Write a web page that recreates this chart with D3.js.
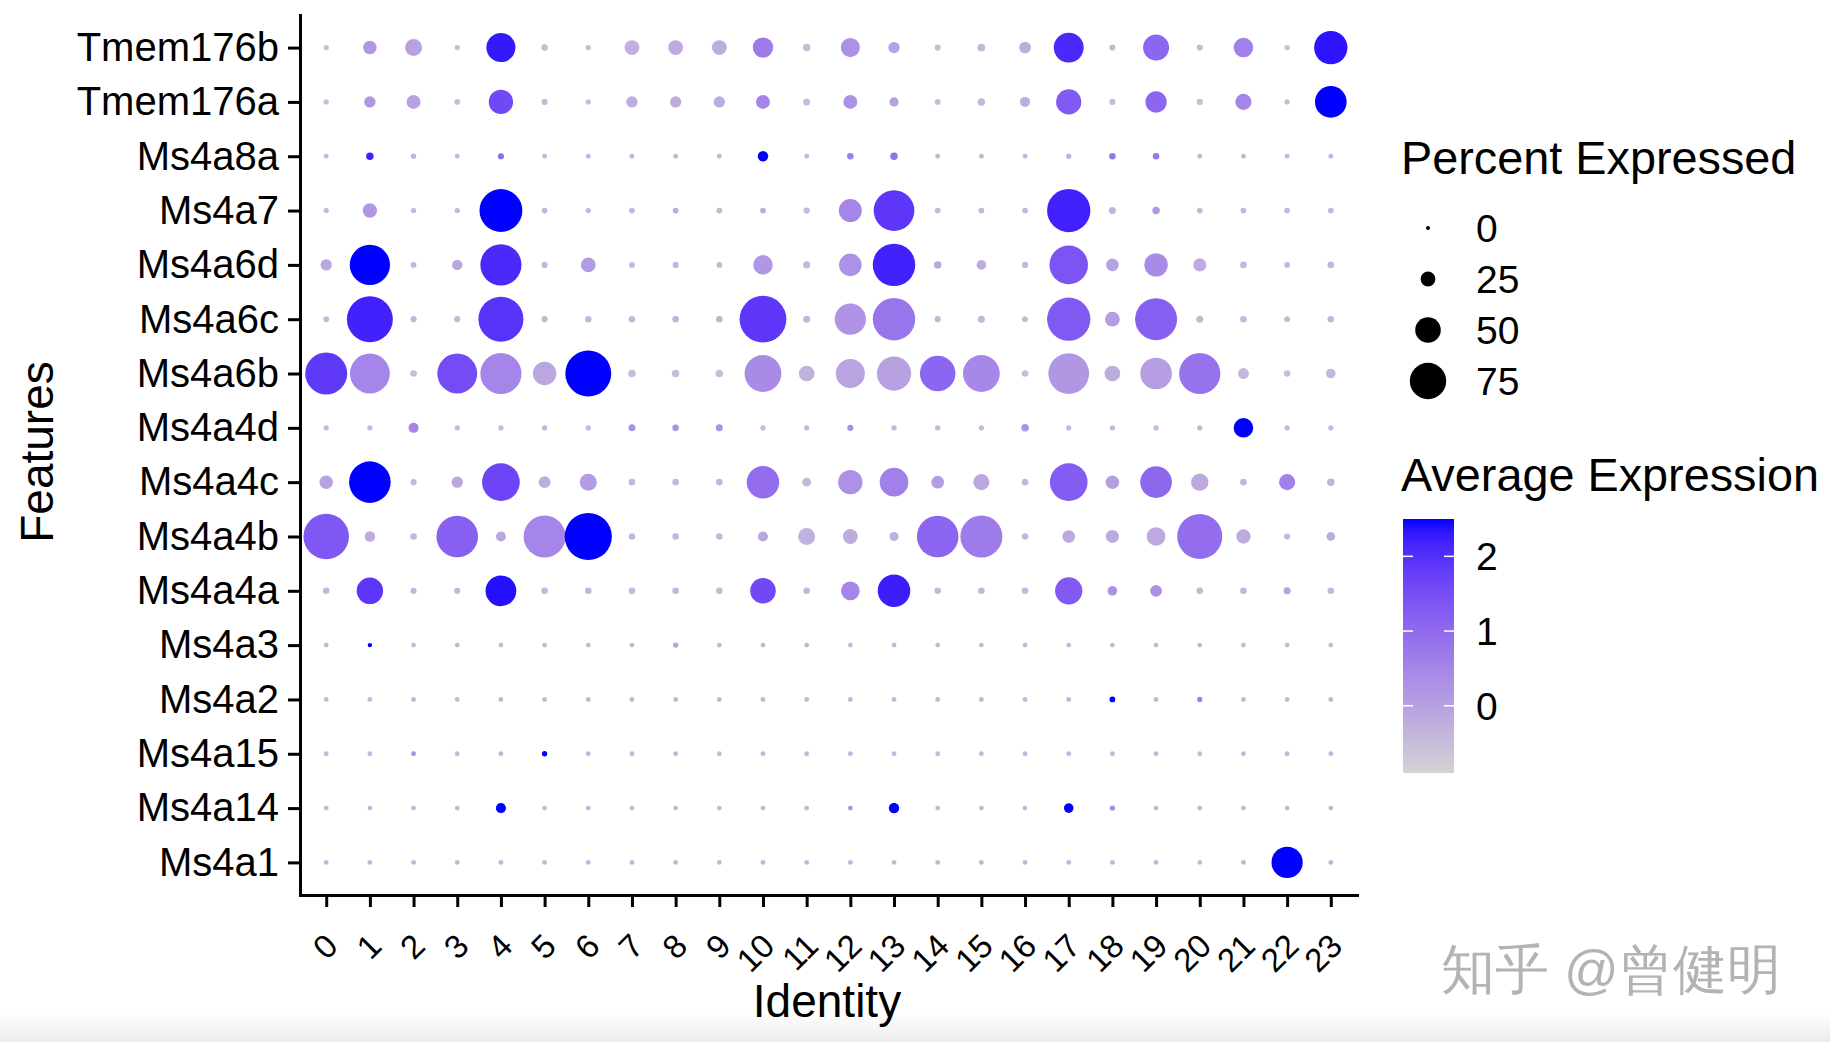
<!DOCTYPE html>
<html>
<head>
<meta charset="utf-8">
<script src="https://cdn.jsdelivr.net/npm/d3@7"></script>
<style>
  body { margin: 0; background: #fff; }
  text { font-family: "Liberation Sans", Arial, Helvetica, sans-serif; }
</style>
</head>
<body>
<div id="chart"></div>
<script>
// genes on the y axis, top to bottom
var features = ["Tmem176b", "Tmem176a", "Ms4a8a", "Ms4a7", "Ms4a6d", "Ms4a6c", "Ms4a6b", "Ms4a4d",
  "Ms4a4c", "Ms4a4b", "Ms4a4a", "Ms4a3", "Ms4a2", "Ms4a15", "Ms4a14", "Ms4a1"];

// cluster identities on the x axis
var clusters = ["0", "1", "2", "3", "4", "5", "6", "7", "8", "9", "10", "11",
  "12", "13", "14", "15", "16", "17", "18", "19", "20", "21", "22", "23"];

// percent of cells expressing, one row per feature
var pctExpressed = [
  [3, 22, 30, 3, 58, 6, 3, 25, 25, 25, 38, 8, 35, 17, 5, 9, 18, 60, 5, 51, 5, 36, 3, 68],
  [3, 17, 23, 4, 47, 5, 3, 17, 17, 17, 23, 7, 23, 12, 4, 8, 14, 49, 5, 40, 5, 28, 3, 64],
  [2, 8, 3, 2, 5, 2, 2, 2, 2, 2, 15, 2, 6, 8, 2, 2, 2, 3, 6, 6, 2, 2, 2, 2],
  [3, 24, 3, 3, 90, 4, 3, 4, 4, 4, 4, 5, 44, 85, 4, 4, 4, 91, 7, 8, 4, 4, 4, 4],
  [17, 84, 4, 15, 86, 5, 25, 4, 5, 4, 36, 7, 43, 89, 8, 13, 5, 80, 20, 45, 21, 6, 4, 6],
  [4, 97, 5, 5, 95, 5, 6, 6, 6, 6, 99, 7, 63, 89, 5, 7, 4, 91, 25, 88, 7, 6, 4, 6],
  [88, 83, 6, 83, 86, 45, 97, 8, 8, 8, 76, 27, 58, 70, 73, 76, 6, 85, 27, 64, 86, 16, 6, 13],
  [3, 3, 14, 3, 3, 3, 3, 7, 6, 7, 3, 3, 5, 3, 3, 3, 8, 3, 3, 3, 3, 36, 3, 3],
  [22, 87, 5, 17, 78, 18, 30, 6, 6, 6, 66, 11, 47, 57, 20, 28, 6, 78, 22, 64, 31, 6, 28, 8],
  [96, 15, 6, 87, 14, 88, 100, 6, 6, 6, 14, 30, 25, 12, 87, 88, 6, 20, 21, 34, 95, 24, 5, 11],
  [6, 52, 5, 5, 62, 6, 6, 6, 6, 6, 50, 6, 34, 66, 6, 6, 6, 54, 13, 18, 6, 6, 7, 6],
  [2, 1, 2, 2, 2, 2, 2, 2, 3, 2, 2, 2, 2, 2, 2, 2, 2, 2, 2, 2, 2, 2, 2, 2],
  [2, 2, 2, 2, 2, 2, 2, 2, 2, 2, 2, 2, 2, 2, 2, 2, 2, 2, 4, 2, 3, 2, 2, 2],
  [2, 2, 2, 2, 2, 3, 2, 2, 2, 2, 2, 2, 2, 2, 2, 2, 2, 2, 2, 2, 2, 2, 2, 2],
  [2, 2, 2, 2, 14, 2, 2, 2, 2, 2, 2, 2, 2, 15, 2, 2, 2, 13, 3, 2, 2, 2, 2, 2],
  [2, 2, 2, 2, 2, 2, 2, 2, 2, 2, 2, 2, 2, 2, 2, 2, 2, 2, 2, 2, 2, 2, 63, 2]
];

// scaled average expression, one row per feature
var avgExpression = [
  [-0.5, 0.2, 0, -0.5, 2.3, -0.5, -0.5, -0.3, -0.2, -0.2, 0.7, -0.5, 0.3, 0, -0.5, -0.4, -0.2, 2.1, -0.5, 1.1, -0.5, 0.6, -0.5, 2.35],
  [-0.5, 0.2, 0, -0.5, 1.6, -0.5, -0.5, -0.2, -0.2, -0.2, 0.5, -0.5, 0.3, 0, -0.5, -0.4, -0.2, 1.3, -0.5, 1.1, -0.5, 0.5, -0.5, 2.5],
  [-0.4, 2.2, -0.3, -0.4, 1.0, -0.4, -0.4, -0.4, -0.4, -0.4, 2.5, -0.4, 0.6, 0.9, -0.4, -0.4, -0.4, -0.3, 0.8, 0.8, -0.4, -0.4, -0.4, -0.4],
  [-0.4, 0.2, -0.4, -0.4, 2.5, -0.4, -0.4, -0.4, -0.2, -0.4, -0.2, -0.4, 0.5, 1.9, -0.4, -0.4, -0.4, 2.2, -0.3, 0.2, -0.4, -0.4, -0.4, -0.4],
  [-0.1, 2.5, -0.4, -0.1, 2.1, -0.4, 0.1, -0.4, -0.4, -0.4, 0.2, -0.4, 0.3, 2.2, -0.1, -0.2, -0.4, 1.4, 0, 0.4, -0.2, -0.4, -0.4, -0.4],
  [-0.4, 2.2, -0.4, -0.4, 1.95, -0.4, -0.4, -0.4, -0.3, -0.3, 1.9, -0.4, 0.25, 0.8, -0.4, -0.4, -0.4, 1.3, 0.1, 1.2, -0.4, -0.4, -0.4, -0.4],
  [1.85, 0.5, -0.5, 1.55, 0.5, -0.1, 2.5, -0.5, -0.5, -0.5, 0.4, -0.3, -0.05, 0, 1.1, 0.45, -0.5, 0.2, -0.2, 0.05, 0.85, -0.4, -0.5, -0.4],
  [-0.4, -0.4, 0.5, -0.4, -0.4, -0.4, -0.4, 0.3, 0.3, 0.3, -0.4, -0.4, 0.3, -0.4, -0.4, -0.4, 0.3, -0.4, -0.4, -0.4, -0.4, 2.5, -0.4, -0.4],
  [0, 2.5, -0.4, -0.1, 1.65, -0.2, 0.1, -0.4, -0.4, -0.4, 0.95, -0.4, 0.3, 0.6, 0.1, -0.1, -0.4, 1.25, 0.05, 1.05, -0.15, -0.4, 0.6, -0.3],
  [1.35, -0.2, -0.4, 1.2, -0.1, 0.5, 2.5, -0.4, -0.4, -0.4, -0.1, -0.3, -0.2, -0.3, 1.1, 0.7, -0.4, -0.15, -0.15, -0.15, 0.95, -0.2, -0.4, -0.2],
  [-0.4, 1.9, -0.4, -0.4, 2.4, -0.4, -0.4, -0.4, -0.4, -0.4, 1.6, -0.4, 0.5, 2.25, -0.4, -0.4, -0.4, 1.3, 0.3, 0.3, -0.4, -0.4, 0, -0.4],
  [-0.4, 2.5, -0.4, -0.4, -0.4, -0.4, -0.4, -0.4, 0, -0.4, -0.4, -0.4, -0.4, -0.4, -0.4, -0.4, -0.4, -0.4, -0.4, -0.4, -0.4, -0.4, -0.4, -0.4],
  [-0.4, -0.4, -0.4, -0.4, -0.4, -0.4, -0.4, -0.4, -0.4, -0.4, -0.4, -0.4, -0.4, -0.4, -0.4, -0.4, -0.4, -0.4, 2.5, -0.4, 0.6, -0.4, -0.4, -0.4],
  [-0.4, -0.4, 0.3, -0.4, -0.4, 2.5, -0.4, -0.4, -0.4, -0.4, -0.4, -0.4, -0.4, -0.4, -0.4, -0.4, -0.4, -0.4, -0.4, -0.4, -0.4, -0.4, -0.4, -0.4],
  [-0.4, -0.4, -0.4, -0.4, 2.5, -0.4, -0.4, -0.4, -0.4, -0.4, -0.4, -0.4, 0.3, 2.5, -0.4, -0.4, -0.4, 2.5, 0.4, -0.4, -0.4, -0.4, -0.4, -0.4],
  [-0.4, -0.4, -0.4, -0.4, -0.4, -0.4, -0.4, -0.4, -0.4, -0.4, -0.4, -0.4, -0.4, -0.4, -0.4, -0.4, -0.4, -0.4, -0.4, -0.4, -0.4, -0.4, 2.5, -0.4]
];

// legend breaks
var sizeBreaks = [0, 25, 50, 75];
var colorBreaks = [0, 1, 2];
var colorRange = [-0.9, 2.5];

var svgWidth = 1830;
var svgHeight = 1042;

var svg = d3.select("#chart")
  .append("svg")
  .attr("width", svgWidth)
  .attr("height", svgHeight);

svg.append("rect")
  .attr("width", svgWidth)
  .attr("height", svgHeight)
  .attr("fill", "#fff");

// faint grey strip at the bottom of the screenshot
var defs = svg.append("defs");
var band = defs.append("linearGradient")
  .attr("id", "band")
  .attr("x1", 0).attr("y1", 0).attr("x2", 0).attr("y2", 1);
band.append("stop").attr("offset", 0).attr("stop-color", "#fff");
band.append("stop").attr("offset", 1).attr("stop-color", "#ececec");
svg.append("rect")
  .attr("x", 0).attr("y", 1012)
  .attr("width", svgWidth).attr("height", 30)
  .attr("fill", "url(#band)");

// scales
var xScale = d3.scalePoint()
  .domain(clusters)
  .range([300, 1357])
  .padding(0.6);

var yScale = d3.scalePoint()
  .domain(features)
  .range([15, 895])
  .padding(0.6);

var radius = d3.scaleLinear()
  .domain([0, 100])
  .range([2, 23.6]);

var color = d3.scaleLinear()
  .domain(colorRange)
  .range(["lightgrey", "blue"])
  .interpolate(d3.interpolateLab)
  .clamp(true);

// flatten into one record per dot
var dots = [];
features.forEach(function(f, i) {
  clusters.forEach(function(c, j) {
    dots.push({feature: f, cluster: c, pct: pctExpressed[i][j], avg: avgExpression[i][j]});
  });
});

svg.append("g")
  .selectAll("circle")
  .data(dots)
  .enter()
  .append("circle")
  .attr("cx", d => xScale(d.cluster))
  .attr("cy", d => yScale(d.feature))
  .attr("r", d => radius(d.pct))
  .attr("fill", d => color(d.avg));

// axes
var leftAxis = d3.axisLeft(yScale).tickSize(12).tickSizeOuter(0).tickPadding(9);
var bottomAxis = d3.axisBottom(xScale).tickSize(12).tickSizeOuter(0);

var yAxisG = svg.append("g")
  .attr("transform", "translate(300, 0)")
  .call(leftAxis);

var xAxisG = svg.append("g")
  .attr("transform", "translate(0, 895)")
  .call(bottomAxis);

[yAxisG, xAxisG].forEach(function(g) {
  g.select(".domain")
    .attr("stroke", "#000")
    .attr("stroke-width", 3)
    .attr("stroke-linecap", "square");
  g.selectAll(".tick line")
    .attr("stroke", "#000")
    .attr("stroke-width", 3);
});

yAxisG.selectAll(".tick text")
  .attr("font-size", 40)
  .attr("fill", "#000");

xAxisG.selectAll(".tick text")
  .attr("font-size", 33)
  .attr("fill", "#000")
  .attr("text-anchor", "end")
  .attr("x", 0)
  .attr("y", 0)
  .attr("dy", 0)
  .attr("transform", "translate(13, 53) rotate(-45)");

// axis titles
svg.append("text")
  .attr("x", 827)
  .attr("y", 1017)
  .attr("text-anchor", "middle")
  .attr("font-size", 46)
  .text("Identity");

svg.append("text")
  .attr("transform", "translate(53, 452) rotate(-90)")
  .attr("text-anchor", "middle")
  .attr("font-size", 46)
  .text("Features");

// size legend
var legend = svg.append("g");

legend.append("text")
  .attr("x", 1401)
  .attr("y", 174)
  .attr("font-size", 46.8)
  .text("Percent Expressed");

var sizeY = d3.scalePoint()
  .domain(sizeBreaks)
  .range([228, 381]);

legend.selectAll(".size-key")
  .data(sizeBreaks)
  .enter()
  .append("circle")
  .attr("cx", 1428)
  .attr("cy", d => sizeY(d))
  .attr("r", d => radius(d))
  .attr("fill", "#000");

legend.selectAll(".size-label")
  .data(sizeBreaks)
  .enter()
  .append("text")
  .attr("x", 1476)
  .attr("y", d => sizeY(d))
  .attr("dy", "0.36em")
  .attr("font-size", 39)
  .text(d => d);

// colour bar legend
legend.append("text")
  .attr("x", 1401)
  .attr("y", 491)
  .attr("font-size", 46.8)
  .text("Average Expression");

var barScale = d3.scaleLinear()
  .domain(colorRange)
  .range([773, 519]);

var grad = defs.append("linearGradient")
  .attr("id", "avgexp")
  .attr("x1", 0).attr("y1", 1).attr("x2", 0).attr("y2", 0);

grad.selectAll("stop")
  .data(d3.range(0, 1.0001, 0.05))
  .enter()
  .append("stop")
  .attr("offset", d => d)
  .attr("stop-color", d => color(colorRange[0] + d * (colorRange[1] - colorRange[0])));

legend.append("rect")
  .attr("x", 1403)
  .attr("y", barScale(colorRange[1]))
  .attr("width", 51)
  .attr("height", barScale(colorRange[0]) - barScale(colorRange[1]))
  .attr("fill", "url(#avgexp)");

colorBreaks.forEach(function(v) {
  [[1403, 1413], [1444, 1454]].forEach(function(seg) {
    legend.append("line")
      .attr("x1", seg[0]).attr("x2", seg[1])
      .attr("y1", barScale(v)).attr("y2", barScale(v))
      .attr("stroke", "#fff")
      .attr("stroke-width", 1.5);
  });
});

legend.selectAll(".bar-label")
  .data(colorBreaks)
  .enter()
  .append("text")
  .attr("x", 1476)
  .attr("y", d => barScale(d))
  .attr("dy", "0.36em")
  .attr("font-size", 39)
  .text(d => d);

// watermark
svg.append("text")
  .attr("x", 1441)
  .attr("y", 988)
  .attr("font-family", "'Noto Sans CJK SC', sans-serif")
  .attr("font-size", 54)
  .attr("fill", "#b3b3b3")
  .text("知乎 @曾健明");
</script>
</body>
</html>
